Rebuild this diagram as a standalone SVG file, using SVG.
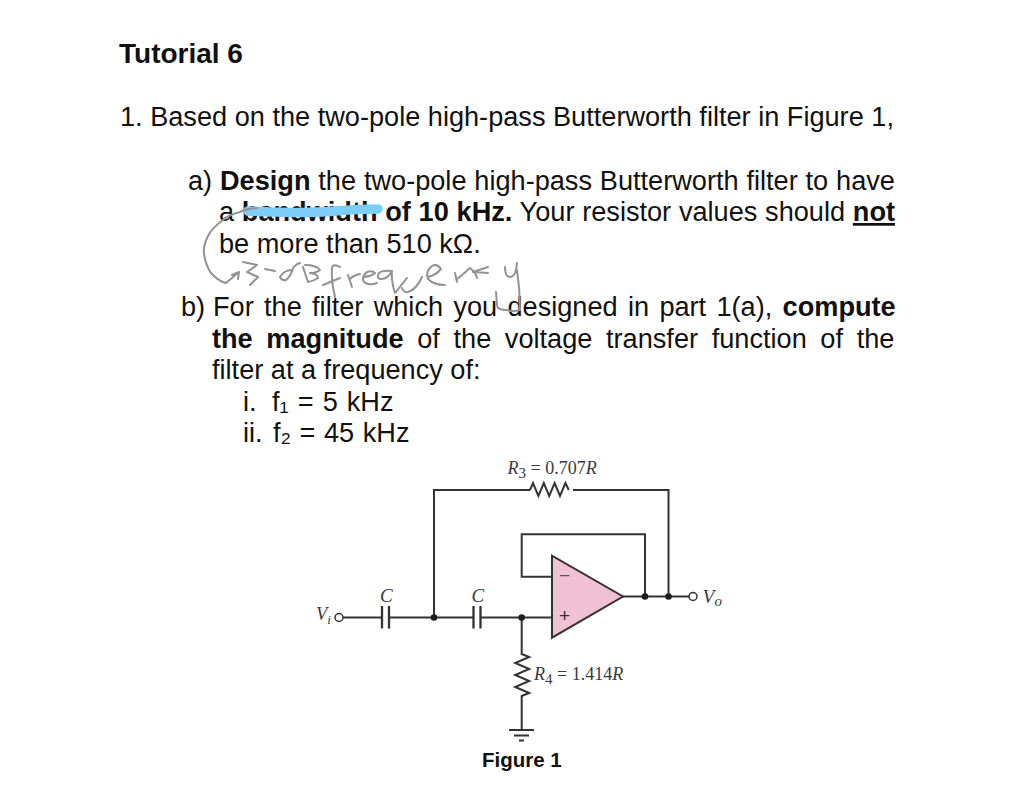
<svg xmlns="http://www.w3.org/2000/svg" width="1014" height="788" viewBox="0 0 1014 788">
<style>
.t{font-family:"Liberation Sans",Arial,sans-serif;font-size:27.15px;fill:#111}
.b{font-weight:bold}
.w{fill:none;stroke:#333;stroke-width:2}
.d{fill:#1c1c1c}
.s{font-family:"Liberation Serif","Times New Roman",serif;font-size:18px;fill:#3a3a3a}
.i{font-style:italic}
.h{fill:none;stroke:#929292;stroke-width:2;stroke-linecap:round;stroke-linejoin:round}
</style>
<rect width="1014" height="788" fill="#fff"/>
<g id="text">
<text class="t b" x="119" y="63" style="font-size:28px">Tutorial 6</text>
<text class="t" x="120" y="126">1. Based on the two-pole high-pass Butterworth filter in Figure 1,</text>
<text class="t" x="188" y="190" word-spacing="0.3">a) <tspan class="b">Design</tspan> the two-pole high-pass Butterworth filter to have</text>
<text class="t" x="219" y="221" word-spacing="0.2">a <tspan class="b">bandwidth of 10 kHz.</tspan> Your resistor values should <tspan class="b" text-decoration="underline">not</tspan></text>
<text class="t" x="219" y="253">be more than 510 kΩ.</text>
<text class="t" x="181" y="316" word-spacing="2.78">b)<tspan x="213">For the filter which you designed in part 1(a), </tspan><tspan class="b">compute</tspan></text>
<text class="t" x="212" y="348" word-spacing="6.1"><tspan class="b">the magnitude</tspan> of the voltage transfer function of the</text>
<text class="t" x="212" y="379">filter at a frequency of:</text>
<text class="t" x="243" y="411" word-spacing="1.500">i.<tspan x="272">f₁ = 5 kHz</tspan></text>
<text class="t" x="243" y="442" word-spacing="1">ii.<tspan x="273">f₂ = 45 kHz</tspan></text>
<text class="t b" x="482" y="767" style="font-size:20.500px">Figure 1</text>
</g>
<g id="annotation">
<path d="M248 211 Q300 214 335 211 Q360 209 378 209" fill="none" stroke="#7ccdf7" stroke-width="9.500" stroke-linecap="round"/>
<path class="h" d="M257 208 Q246 209 240 212 Q228 215 223 220 Q212 228 208 236 Q203 246 204 254 Q206 266 211 273 Q218 281 226 283 L239 272 M232 275 L239 272 L238 279"/>
<path class="h" d="M243 262 L257 265 L247 272 L258 277 L250 285 M265 269 L275 271 M292 270 Q284 270 280 277 Q282 281 286 280 Q291 276 293 268 Q296 264 300 263 M303 267 L308 282 M305 265 Q316 265 320 270 Q316 273 310 273 Q318 274 318 278 Q314 281 308 282 M340 267 Q333 263 332 268 Q331 280 335 297 M323 285 L340 278 M348 275 L352 287 M350 279 Q354 275 360 274 M364 277 Q372 276 375 273 Q372 270 367 272 Q361 277 364 282 Q369 286 377 283 M392 271 Q382 270 379 273 Q376 279 381 279 Q388 279 392 271 Q391 281 395 293 L407 278 M402 288 Q404 293 408 292 Q416 290 422 277 M428 277 Q436 275 441 269 Q437 263 432 266 Q425 272 428 279 Q434 285 445 285 M455 273 L457 282 M457 279 Q460 277 470 268 Q476 273 477 278 M473 272 L488 267 M473 272 L488 273 M505 267 Q505 277 510 277 Q516 277 517 263 M517 270 Q520 290 520 310 Q512 312 507 310 Q497 310 497 305 L496 292"/>
</g>
<g id="connectors">
<path class="w" d="M343 617.500H382M389 617.500H473.500M480.500 617.500H552"/>
<path class="w" d="M434 617.500V490H530"/>
<path class="w" d="M530 490l3-7 5.400 13 5.400-13 5.400 13 5.400-13 5.400 13 5.400-13 3.400 7"/>
<path class="w" d="M573 490H668.500V596.500"/>
<path class="w" d="M552 576.700H521.700V534.300H645V596.500"/>
<path class="w" d="M623 596.500H689"/>
<path class="w" d="M521.700 617.500V654l7.500 3-14 6 14 6-14 6 14 6-14 6 14 6-7.500 3V730"/>
</g>
<g id="opamp">
<path d="M552 555.700V637.700L623 596.500Z" fill="#f0c1d2" stroke="#333" stroke-width="2"/>
<text x="559" y="582" style="font-family:'Liberation Sans',sans-serif;font-size:19px;fill:#555">−</text>
<text x="559" y="622" style="font-family:'Liberation Sans',sans-serif;font-size:19px;fill:#333">+</text>
</g>
<g id="vi">
<circle cx="339" cy="617.500" r="4" fill="#fff" stroke="#333" stroke-width="1.500"/>
<text class="s" x="316" y="620" style="font-size:18.500px"><tspan class="i">V</tspan><tspan class="i" dy="4" font-size="13">i</tspan></text>
</g>
<g id="c1">
<path class="w" d="M382 606V628.500M389 606V628.500" style="stroke-width:2.300"/>
<text class="s i" x="380" y="602" style="font-size:19px">C</text>
</g>
<g id="c2">
<path class="w" d="M473.500 606V628.500M480.500 606V628.500" style="stroke-width:2.300"/>
<text class="s i" x="471.500" y="602" style="font-size:19px">C</text>
</g>
<g id="r3"><text class="s" x="507.500" y="474"><tspan class="i">R</tspan><tspan dy="4" font-size="15">3</tspan><tspan dy="-4"> = 0.707</tspan><tspan class="i">R</tspan></text></g>
<g id="r4"><text class="s" x="534" y="680"><tspan class="i">R</tspan><tspan dy="4" font-size="15">4</tspan><tspan dy="-4"> = 1.414</tspan><tspan class="i">R</tspan></text></g>
<g id="vo"><circle cx="693" cy="596.500" r="4" fill="#fff" stroke="#333" stroke-width="1.500"/>
<text class="s" x="702.500" y="603" style="font-size:19.500px"><tspan class="i">V</tspan><tspan class="i" dy="3" font-size="15">o</tspan></text></g>
<g id="junctions" class="d">
<circle cx="434" cy="617.500" r="3.300"/><circle cx="521.700" cy="617.500" r="3.300"/><circle cx="645" cy="596.500" r="3.300"/><circle cx="668.500" cy="596.500" r="3.300"/>
</g>
<g id="ground"><path class="w" d="M509 730H534M514 735.500H529M519 740.500H524"/></g>
</svg>
